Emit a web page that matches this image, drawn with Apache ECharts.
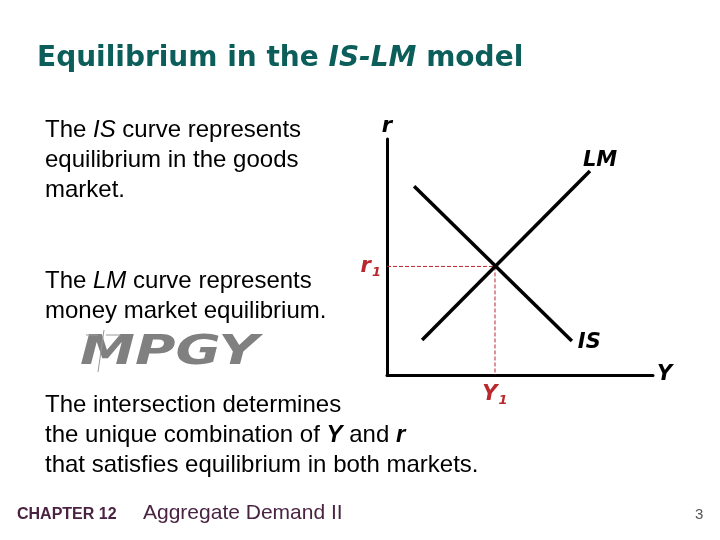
<!DOCTYPE html>
<html><head><meta charset="utf-8">
<script src="https://cdn.jsdelivr.net/npm/echarts@6/dist/echarts.min.js"></script>
<style>html,body{margin:0;padding:0;background:#fff}#c{width:720px;height:540px}</style>
</head><body><div id="c"></div>
<script>
// Data (abstract units on 0..100 axes)
const isCurve = [[10.2, 80.0], [69.5, 14.4]];
const lmCurve = [[13.2, 14.8], [76.3, 86.4]];
const Y1 = 40.6;
const r1 = 46.0;
const guideLines = [[0, r1], [Y1, r1], [Y1, 0]];
const axisNames = { x: 'Y', y: 'r' };
const curveNames = { is: 'IS', lm: 'LM' };

const axisFont = { fontFamily: 'DejaVu Sans', fontWeight: 'bold', fontStyle: 'italic', fontSize: 21, color: '#000' };
const red = '#b8282d';
const bodyN = { fontFamily: 'Liberation Sans', fontSize: 24, fill: '#000', lineHeight: 30 };
const bodyI = Object.assign({}, bodyN, { fontStyle: 'italic' });
const bodyBI = Object.assign({}, bodyN, { fontStyle: 'italic', fontWeight: 'bold' });

const chart = echarts.init(document.getElementById('c'), null, { renderer: 'canvas' });
chart.setOption({
  backgroundColor: '#fff',
  animation: false,
  grid: { left: 387, top: 139, right: 67, bottom: 165 },
  xAxis: {
    type: 'value', min: 0, max: 100,
    name: axisNames.x, nameLocation: 'end', nameGap: 4,
    nameTextStyle: Object.assign({}, axisFont, { verticalAlign: 'middle' }),
    axisLine: { show: true, lineStyle: { color: '#000', width: 3 } },
    axisTick: { show: false }, splitLine: { show: false },
    axisLabel: {
      show: true, customValues: [Y1], margin: 7,
      formatter: () => '{a|Y}{b|1}',
      rich: {
        a: { fontFamily: 'DejaVu Sans', fontWeight: 'bold', fontStyle: 'italic', fontSize: 21, color: red },
        b: { fontFamily: 'DejaVu Sans', fontWeight: 'bold', fontStyle: 'italic', fontSize: 13, color: red, verticalAlign: 'bottom', padding: [12, 0, 0, 1] }
      }
    }
  },
  yAxis: {
    type: 'value', min: 0, max: 100,
    name: axisNames.y, nameLocation: 'end', nameGap: 2,
    nameTextStyle: Object.assign({}, axisFont, { align: 'center' }),
    axisLine: { show: true, lineStyle: { color: '#000', width: 3 } },
    axisTick: { show: false }, splitLine: { show: false },
    axisLabel: {
      show: true, customValues: [r1], margin: 6,
      formatter: () => '{a|r}{b|1}',
      rich: {
        a: { fontFamily: 'DejaVu Sans', fontWeight: 'bold', fontStyle: 'italic', fontSize: 21, color: red },
        b: { fontFamily: 'DejaVu Sans', fontWeight: 'bold', fontStyle: 'italic', fontSize: 13, color: red, padding: [12, 0, 0, 1] }
      }
    }
  },
  series: [
    {
      type: 'line', data: guideLines, symbol: 'none', z: 1,
      lineStyle: { color: red, width: 1, type: [4, 2] }
    },
    {
      name: curveNames.is, type: 'line', data: isCurve, symbol: 'none', z: 3,
      lineStyle: { color: '#000', width: 3.5 },
      endLabel: { show: true, formatter: curveNames.is, offset: [-2, 2],
        fontFamily: 'DejaVu Sans', fontWeight: 'bold', fontStyle: 'italic', fontSize: 21, color: '#000' }
    },
    {
      name: curveNames.lm, type: 'line', data: lmCurve, symbol: 'none', z: 3,
      lineStyle: { color: '#000', width: 3.5 },
      endLabel: { show: true, formatter: curveNames.lm, offset: [-15, -11],
        fontFamily: 'DejaVu Sans', fontWeight: 'bold', fontStyle: 'italic', fontSize: 21, color: '#000' }
    }
  ],
  graphic: [
    { type: 'text', left: 37, top: 45, style: {
      text: '{n|Equilibrium in the }{i|IS-LM}{n| model}',
      rich: {
        n: { fontFamily: 'DejaVu Sans', fontWeight: 'bold', fontSize: 28, fill: '#0b5e59' },
        i: { fontFamily: 'DejaVu Sans', fontWeight: 'bold', fontStyle: 'italic', fontSize: 28, fill: '#0b5e59' }
      } } },
    { type: 'text', left: 45, top: 118, style: {
      text: '{n|The }{i|IS}{n| curve represents}\n{n|equilibrium in the goods}\n{n|market.}',
      rich: { n: bodyN, i: bodyI } } },
    { type: 'text', left: 45, top: 269, style: {
      text: '{n|The }{i|LM}{n| curve represents}\n{n|money market equilibrium.}',
      rich: { n: bodyN, i: bodyI } } },
    { type: 'text', left: 45, top: 393, style: {
      text: '{n|The intersection determines}\n{n|the unique combination of }{b|Y}{n| and }{b|r}\n{n|that satisfies equilibrium in both markets.}',
      rich: { n: bodyN, b: bodyBI } } },
    { type: 'text', left: 80, top: 334, style: {
      text: 'MPGY', fontFamily: 'DejaVu Sans', fontWeight: 'bold', fontStyle: 'italic', fontSize: 40,
      fill: '#808080' }, scaleX: 1.38, scaleY: 1 },
    { type: 'line', shape: { x1: 86, y1: 335, x2: 98, y2: 335 }, style: { stroke: '#999', lineWidth: 1 } },
    { type: 'line', shape: { x1: 106, y1: 335, x2: 120, y2: 335 }, style: { stroke: '#999', lineWidth: 1 } },
    { type: 'line', shape: { x1: 104, y1: 330, x2: 98, y2: 372 }, style: { stroke: '#999', lineWidth: 1 } },
    { type: 'text', left: 17, top: 507, style: {
      text: 'CHAPTER 12', fontFamily: 'Liberation Sans', fontWeight: 'bold', fontSize: 16, fill: '#4a2343' } },
    { type: 'text', left: 143, top: 503, style: {
      text: 'Aggregate Demand II', fontFamily: 'Liberation Sans', fontSize: 21, fill: '#4a2343' } },
    { type: 'text', left: 695, top: 507, style: {
      text: '3', fontFamily: 'Liberation Sans', fontSize: 15, fill: '#555' } }
  ]
});
</script></body></html>
